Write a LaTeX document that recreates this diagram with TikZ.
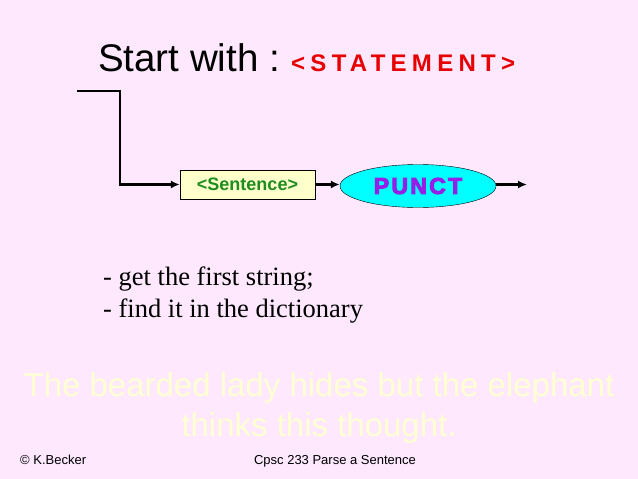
\documentclass[tikz,border=0pt]{standalone}
\usepackage{fontspec}
\setmainfont{Liberation Serif}
\newfontfamily\arial{Liberation Sans}
\usetikzlibrary{shapes.geometric,arrows.meta}
\definecolor{bg}{RGB}{253,232,253}
\definecolor{boxy}{RGB}{255,255,204}
\definecolor{grn}{RGB}{30,140,30}
\definecolor{cy}{RGB}{0,255,255}
\definecolor{purp}{RGB}{150,30,230}
\definecolor{faint}{RGB}{255,255,212}
\definecolor{redt}{RGB}{230,0,0}
\tikzset{conn/.style={line width=2.4pt,-{Latex[length=9pt,width=8pt]}}}
\begin{document}
\begin{tikzpicture}[x=1pt,y=-1pt]
\fill[bg] (0,0) rectangle (638,479);
\useasboundingbox (0,0) rectangle (638,479);
\node[anchor=base west,inner sep=0,font=\arial\fontsize{38.5}{40}\selectfont] (title) at (98,71) {Start with :};
\node[anchor=base west,inner sep=0,font=\arial\bfseries\fontsize{24}{26}\selectfont,text=redt] (stmt) at (291,71) {\addfontfeature{LetterSpace=22}<STATEMENT>};
\node[draw=black,fill=boxy,minimum width=135pt,minimum height=29pt,inner sep=0,font=\arial\bfseries\fontsize{18}{20}\selectfont,text=grn] (sent) at (247.5,184.5) {<Sentence>};
\node[ellipse,draw=black,fill=cy,minimum width=156pt,minimum height=43pt,inner sep=0,font=\arial\bfseries\fontsize{23}{26}\selectfont,text=purp] (punct) at (418,186) {\addfontfeature{FakeBold=4,LetterSpace=10}PUNCT};
\coordinate (start) at (77,91);
\coordinate (corner) at (120,91);
\coordinate (endp) at (527,184.5);
\draw[conn] (start) -- (corner) |- (sent.west);
\draw[conn] (sent.east) -- (punct.west |- sent.east);
\draw[conn] (punct.east |- sent.east) -- (endp);
\node[anchor=base west,inner sep=0,font=\fontsize{26.5}{30}\selectfont] (l1) at (103,285) {- get the first string;};
\node[anchor=base west,inner sep=0,font=\fontsize{26.5}{30}\selectfont] (l2) at (103,317) {- find it in the dictionary};
\node[inner sep=0,font=\arial\fontsize{33}{40}\selectfont,text=faint,align=center] (faint) at (319,408) {The bearded lady hides but the elephant\\thinks this thought.};
\node[anchor=base west,inner sep=0,font=\arial\fontsize{13}{15}\selectfont] (copy) at (20,464) {© K.Becker};
\node[anchor=base,inner sep=0,font=\arial\fontsize{13}{15}\selectfont] (foot) at (335,464) {Cpsc 233 Parse a Sentence};
\end{tikzpicture}
\end{document}
